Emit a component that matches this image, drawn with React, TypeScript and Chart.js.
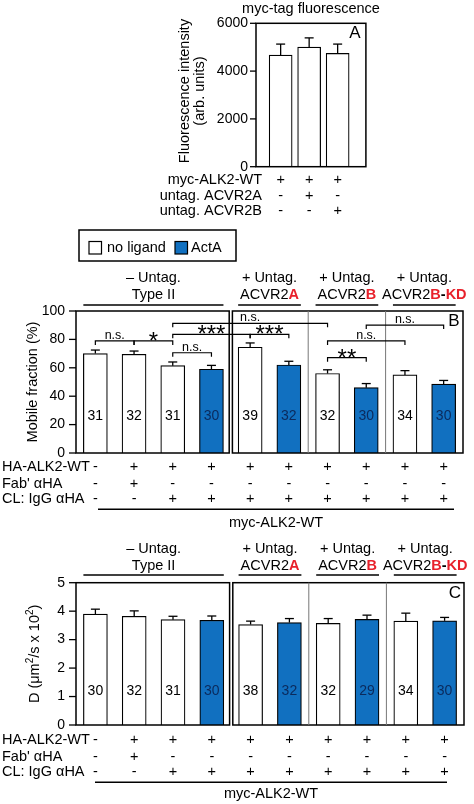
import React, { useEffect, useRef } from 'react';
import { Chart, registerables } from 'chart.js';

Chart.register(...registerables);

const FONT = '"Liberation Sans", Arial, Helvetica, sans-serif';
const BLUE = '#1170c0';
const NAVY = '#0b2a5c';
const RED = '#e8212b';

// Panel A: myc-tag fluorescence
const fluorCategories = ['ALK2', 'ALK2 + ACVR2A', 'ALK2 + ACVR2B'];
const fluorValues = [4670, 5000, 4740];
const fluorErrors = [460, 390, 390];
const fluorTicks = [0, 2000, 4000, 6000];
const fluorRowLabels = ['myc-ALK2-WT', 'untag. ACVR2A', 'untag. ACVR2B'];
const fluorRows = [
  ['+', '+', '+'],
  ['-', '+', '-'],
  ['-', '-', '+'],
];

// Panels B and C: shared conditions
const conditions = ['c1', 'c2', 'c3', 'c4', 'c5', 'c6', 'c7', 'c8', 'c9', 'c10'];
const withActA = [false, false, false, true, false, true, false, true, false, true];
const treatmentLabels = ['HA-ALK2-WT', "Fab' \u03b1HA", 'CL: IgG \u03b1HA'];
const treatmentRows = [
  ['-', '+', '+', '+', '+', '+', '+', '+', '+', '+'],
  ['-', '+', '-', '-', '-', '-', '-', '-', '-', '-'],
  ['-', '-', '+', '+', '+', '+', '+', '+', '+', '+'],
];
const groupFirst = [0, 4, 6, 8];
const groupLast = [3, 5, 7, 9];
const groupTop = ['\u2013 Untag.', '+ Untag.', '+ Untag.', '+ Untag.'];
type Seg = [string, string, boolean];
const groupBottom: Seg[][] = [
  [['Type II', '#000', false]],
  [['ACVR2', '#000', false], ['A', RED, true]],
  [['ACVR2', '#000', false], ['B', RED, true]],
  [['ACVR2', '#000', false], ['B', RED, true], ['-', '#000', true], ['KD', RED, true]],
];

// Panel B: mobile fraction
const mobileValues = [70, 69.5, 61.5, 59, 74.5, 62, 56, 46, 55, 48.5];
const mobileErrors = [2.5, 2.3, 2.6, 2.7, 3, 2.6, 2.6, 2.9, 3, 2.6];
const mobileCounts = [31, 32, 31, 30, 39, 32, 32, 30, 34, 30];
const mobileTicks = [0, 20, 40, 60, 80, 100];
const bracketFrom = [0, 1, 2, 2, 4, 2, 6, 6, 7];
const bracketTo = [1, 2, 3, 4, 5, 6, 7, 8, 9];
const bracketLevel = [78.9, 78.9, 70.6, 83.6, 83.6, 91.3, 67.1, 78.9, 90.1];
const bracketText = ['n.s.', '*', 'n.s.', '***', '***', 'n.s.', '**', 'n.s.', 'n.s.'];

// Panel C: diffusion coefficient
const diffValues = [3.9, 3.82, 3.7, 3.68, 3.53, 3.6, 3.57, 3.71, 3.65, 3.66];
const diffErrors = [0.17, 0.19, 0.12, 0.15, 0.12, 0.14, 0.17, 0.15, 0.28, 0.12];
const diffCounts = [30, 32, 31, 30, 38, 32, 32, 29, 34, 30];
const diffTicks = [0, 1, 2, 3, 4, 5];

const font = (size: number, bold = false) => `${bold ? 'bold ' : ''}${size}px ${FONT}`;

function text(ctx: CanvasRenderingContext2D, s: string, x: number, y: number, size: number, align: CanvasTextAlign = 'center', color = '#000') {
  ctx.font = font(size);
  ctx.fillStyle = color;
  ctx.textAlign = align;
  ctx.textBaseline = 'middle';
  ctx.fillText(s, x, y);
}

function drawSegs(ctx: CanvasRenderingContext2D, segs: Seg[], cx: number, y: number, size: number) {
  let total = 0;
  const ws = segs.map(([t, , b]) => {
    ctx.font = font(size, b);
    const w = ctx.measureText(t).width;
    total += w;
    return w;
  });
  let x = cx - total / 2;
  ctx.textAlign = 'left';
  ctx.textBaseline = 'middle';
  segs.forEach(([t, c, b], i) => {
    ctx.font = font(size, b);
    ctx.fillStyle = c;
    ctx.fillText(t, x, y);
    x += ws[i];
  });
}

function line(ctx: CanvasRenderingContext2D, x1: number, y1: number, x2: number, y2: number, w = 1.3, color = '#000') {
  ctx.strokeStyle = color;
  ctx.lineWidth = w;
  ctx.beginPath();
  ctx.moveTo(x1, y1);
  ctx.lineTo(x2, y2);
  ctx.stroke();
}

function drawErrorBars(chart: Chart, errors: number[]) {
  const ctx = chart.ctx;
  const y = chart.scales.y;
  const values = chart.data.datasets[0].data as number[];
  chart.getDatasetMeta(0).data.forEach((bar: any, i) => {
    const top = y.getPixelForValue(values[i]);
    const tip = y.getPixelForValue(values[i] + errors[i]);
    line(ctx, bar.x, top, bar.x, tip);
    line(ctx, bar.x - 4.5, tip, bar.x + 4.5, tip);
  });
}

function drawYAxis(chart: Chart, ticks: number[], frameLeft: number, tickLen: number, gap: number) {
  const ctx = chart.ctx;
  const y = chart.scales.y;
  ticks.forEach(t => {
    const py = y.getPixelForValue(t);
    line(ctx, frameLeft - tickLen, py, frameLeft, py);
    text(ctx, String(t), frameLeft - tickLen - gap, py, 14, 'right');
  });
}

function drawRotated(ctx: CanvasRenderingContext2D, x: number, y: number, draw: () => void) {
  ctx.save();
  ctx.translate(x, y);
  ctx.rotate(-Math.PI / 2);
  draw();
  ctx.restore();
}

const fluorPlugin = {
  id: 'fluorPanel',
  afterDatasetsDraw(chart: Chart) {
    const ctx = chart.ctx;
    const a = chart.chartArea;
    const x = chart.scales.x;
    const frameLeft = a.left - 10.4;
    const frameRight = a.right + 14;
    ctx.save();
    drawErrorBars(chart, fluorErrors);
    ctx.lineWidth = 1.5;
    ctx.strokeStyle = '#000';
    ctx.strokeRect(frameLeft, a.top, frameRight - frameLeft, a.bottom - a.top);
    drawYAxis(chart, fluorTicks, frameLeft, 6, 2);
    text(ctx, 'myc-tag fluorescence', (frameLeft + frameRight) / 2, 9, 14.5);
    text(ctx, 'A', frameRight - 11, 33, 17);
    const cy = (a.top + a.bottom) / 2 - 4;
    drawRotated(ctx, 185, cy, () => text(ctx, 'Fluorescence intensity', 0, 0, 14.5));
    drawRotated(ctx, 200, cy, () => text(ctx, '(arb. units)', 0, 0, 14.5));
    const rowY = [180, 196, 211];
    fluorRowLabels.forEach((lab, r) => {
      text(ctx, lab, 262, rowY[r], 14.5, 'right');
      fluorRows[r].forEach((s, i) => text(ctx, s, x.getPixelForValue(i), rowY[r], 14.5));
    });
    ctx.restore();
  },
};

type Layout = {
  head1: number; head2: number; underline: number;
  rows: number[]; mycLine: number; mycX1: number; mycX2: number; mycText: number;
  letter: string; letterY: number; titleX: number;
};

function drawGroupedPanel(chart: Chart, L: Layout, errors: number[], counts: number[], countValue: number, ticks: number[]) {
  const ctx = chart.ctx;
  const a = chart.chartArea;
  const x = chart.scales.x;
  const y = chart.scales.y;
  const px = (i: number) => x.getPixelForValue(i);
  const half = 12;
  ctx.save();
  drawErrorBars(chart, errors);
  // frames
  const split = (px(3) + px(4)) / 2;
  ctx.lineWidth = 1.5;
  ctx.strokeStyle = '#000';
  ctx.strokeRect(a.left, a.top, split - 1.6 - a.left, a.bottom - a.top);
  ctx.strokeRect(split + 1.6, a.top, a.right - split - 1.6, a.bottom - a.top);
  line(ctx, (px(5) + px(6)) / 2, a.top, (px(5) + px(6)) / 2, a.bottom, 1, '#777');
  line(ctx, (px(7) + px(8)) / 2, a.top, (px(7) + px(8)) / 2, a.bottom, 1, '#777');
  drawYAxis(chart, ticks, a.left, 7, 4);
  text(ctx, L.letter, a.right - 9, L.letterY, 17);
  // counts
  counts.forEach((n, i) => text(ctx, String(n), px(i), y.getPixelForValue(countValue), 14, 'center', withActA[i] ? NAVY : '#000'));
  // group headers
  groupFirst.forEach((f, g) => {
    const x1 = px(f) - half;
    const x2 = px(groupLast[g]) + half;
    const cx = (x1 + x2) / 2;
    text(ctx, groupTop[g], cx, L.head1, 14.5);
    drawSegs(ctx, groupBottom[g], cx, L.head2, 14.5);
    line(ctx, x1, L.underline, x2, L.underline, 1.5);
  });
  // treatment rows
  treatmentLabels.forEach((lab, r) => {
    text(ctx, lab, 2, L.rows[r], 14.5, 'left');
    treatmentRows[r].forEach((s, i) => text(ctx, s, px(i), L.rows[r], 14.5));
  });
  line(ctx, L.mycX1, L.mycLine, L.mycX2, L.mycLine, 1.5);
  text(ctx, 'myc-ALK2-WT', (L.mycX1 + L.mycX2) / 2, L.mycText, 14.5);
  ctx.restore();
}

const layoutB: Layout = {
  head1: 53, head2: 70, underline: 80, rows: [242.3, 259, 274.3], mycLine: 284.3, mycX1: 98, mycX2: 454,
  mycText: 297.7, letter: 'B', letterY: 96, titleX: 33,
};
const layoutC: Layout = {
  head1: 19, head2: 35.5, underline: 45, rows: [210, 226.7, 242], mycLine: 252.3, mycX1: 95, mycX2: 447,
  mycText: 264, letter: 'C', letterY: 63, titleX: 35,
};

const mobilePlugin = {
  id: 'mobilePanel',
  afterDatasetsDraw(chart: Chart) {
    const ctx = chart.ctx;
    const a = chart.chartArea;
    const x = chart.scales.x;
    const y = chart.scales.y;
    drawGroupedPanel(chart, layoutB, mobileErrors, mobileCounts, 26, mobileTicks);
    ctx.save();
    drawRotated(ctx, layoutB.titleX, (a.top + a.bottom) / 2, () => text(ctx, 'Mobile fraction (%)', 0, 0, 14.5));
    // legend
    ctx.lineWidth = 1.5;
    ctx.strokeStyle = '#000';
    ctx.strokeRect(79, 5, 157, 31);
    ctx.lineWidth = 1.2;
    ctx.fillStyle = '#fff';
    ctx.fillRect(89, 16.5, 12.5, 12.5);
    ctx.strokeRect(89, 16.5, 12.5, 12.5);
    text(ctx, 'no ligand', 107, 22.5, 14.5, 'left');
    ctx.fillStyle = BLUE;
    ctx.fillRect(175, 16.5, 12.5, 12.5);
    ctx.strokeRect(175, 16.5, 12.5, 12.5);
    text(ctx, 'ActA', 191, 22.5, 14.5, 'left');
    // significance brackets
    bracketFrom.forEach((f, k) => {
      const x1 = x.getPixelForValue(f);
      const x2 = x.getPixelForValue(bracketTo[k]);
      const py = y.getPixelForValue(bracketLevel[k]);
      ctx.strokeStyle = '#000';
      ctx.lineWidth = 1.2;
      ctx.beginPath();
      ctx.moveTo(x1, py + 4);
      ctx.lineTo(x1, py);
      ctx.lineTo(x2, py);
      ctx.lineTo(x2, py + 4);
      ctx.stroke();
      const label = bracketText[k];
      ctx.fillStyle = '#000';
      ctx.textAlign = 'center';
      ctx.textBaseline = 'alphabetic';
      if (label === 'n.s.') {
        ctx.font = font(12.5);
        ctx.fillText(label, (x1 + x2) / 2, py - 2);
      } else {
        ctx.font = font(24);
        ctx.fillText(label, (x1 + x2) / 2, py + 8);
      }
    });
    ctx.restore();
  },
};

const diffPlugin = {
  id: 'diffPanel',
  afterDatasetsDraw(chart: Chart) {
    const ctx = chart.ctx;
    const a = chart.chartArea;
    drawGroupedPanel(chart, layoutC, diffErrors, diffCounts, 1.2, diffTicks);
    ctx.save();
    drawRotated(ctx, layoutC.titleX, (a.top + a.bottom) / 2, () => {
      const parts: [string, boolean][] = [['D (\u03bcm', false], ['2', true], ['/s x 10', false], ['2', true], [')', false]];
      let total = 0;
      const ws = parts.map(([t, sup]) => {
        ctx.font = font(sup ? 10 : 14.5);
        const w = ctx.measureText(t).width;
        total += w;
        return w;
      });
      let px = -total / 2;
      ctx.fillStyle = '#000';
      ctx.textAlign = 'left';
      ctx.textBaseline = 'middle';
      parts.forEach(([t, sup], i) => {
        ctx.font = font(sup ? 10 : 14.5);
        ctx.fillText(t, px, sup ? -5 : 0);
        px += ws[i];
      });
    });
    ctx.restore();
  },
};

function barConfig(labels: string[], values: number[], colors: string[], thickness: number, max: number,
  padding: { top: number; bottom: number; left: number; right: number }, plugin: any): any {
  return {
    type: 'bar',
    data: {
      labels,
      datasets: [{ data: values, backgroundColor: colors, borderColor: '#000', borderWidth: 1.2, barThickness: thickness }],
    },
    options: {
      responsive: false,
      animation: false,
      layout: { padding },
      plugins: { legend: { display: false }, tooltip: { enabled: false } },
      scales: {
        x: { display: false, offset: true },
        y: { display: false, min: 0, max },
      },
    },
    plugins: [plugin],
  };
}

function useChart(ref: React.RefObject<HTMLCanvasElement | null>, make: () => any) {
  useEffect(() => {
    if (!ref.current) return;
    const chart = new Chart(ref.current, make());
    return () => chart.destroy();
  }, []);
}

export default function App() {
  const aRef = useRef<HTMLCanvasElement>(null);
  const bRef = useRef<HTMLCanvasElement>(null);
  const cRef = useRef<HTMLCanvasElement>(null);
  const colors = withActA.map(b => (b ? BLUE : '#fff'));

  useChart(aRef, () => barConfig(fluorCategories, fluorValues, fluorCategories.map(() => '#fff'), 23, 6000,
    { top: 23.3, bottom: 225 - 166.7, left: 266.4, right: 474 - 351.9 }, fluorPlugin));
  useChart(bRef, () => barConfig(conditions, mobileValues, colors, 24, 100,
    { top: 86, bottom: 305 - 228, left: 76, right: 11 }, mobilePlugin));
  useChart(cRef, () => barConfig(conditions, diffValues, colors, 24, 5,
    { top: 52.7, bottom: 274 - 195, left: 76, right: 10 }, diffPlugin));

  const pos = (top: number): React.CSSProperties => ({ position: 'absolute', left: 0, top });
  return (
    <div style={{ position: 'absolute', left: 0, top: 0, width: 474, height: 804, background: '#fff', overflow: 'hidden' }}>
      <canvas ref={aRef} width={474} height={225} style={pos(0)} />
      <canvas ref={bRef} width={474} height={305} style={pos(225)} />
      <canvas ref={cRef} width={474} height={274} style={pos(530)} />
    </div>
  );
}
